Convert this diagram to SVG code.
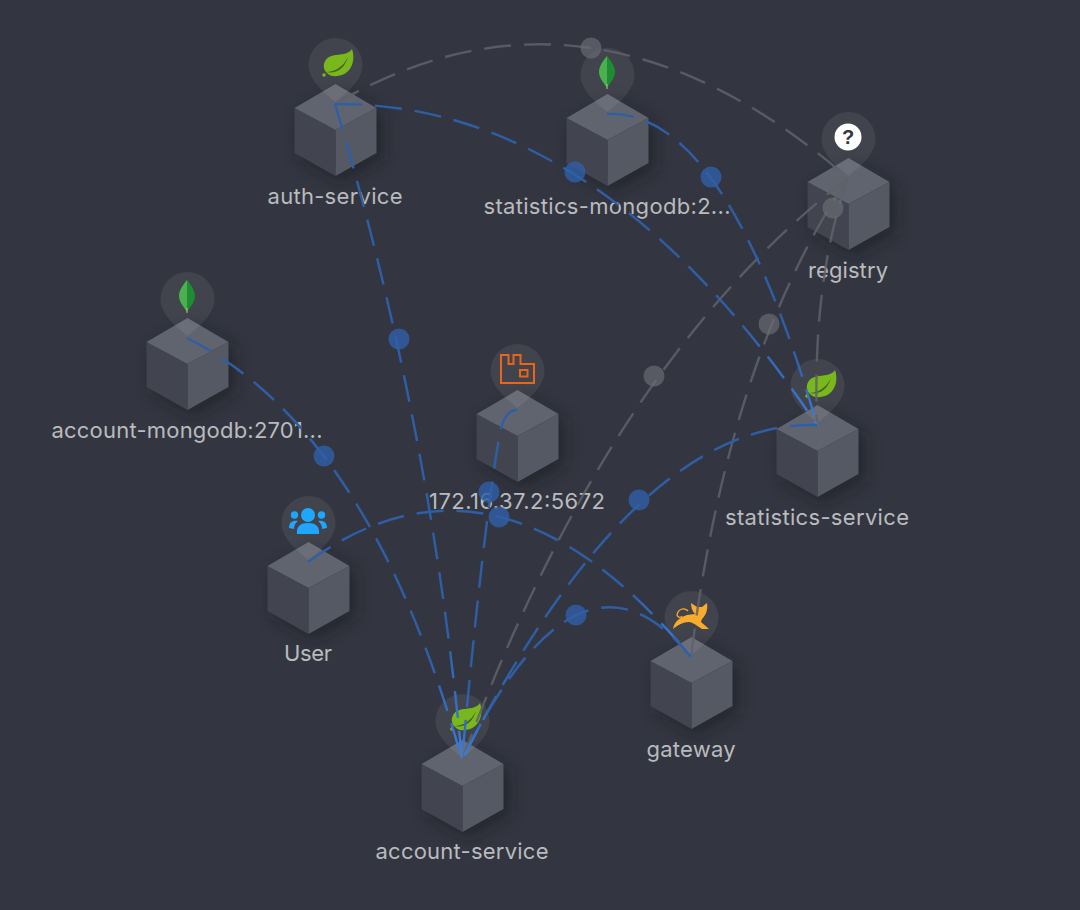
<svg xmlns="http://www.w3.org/2000/svg" width="1080" height="910" viewBox="0 0 1080 910">
<style>
text{font-family:"Inter","Noto Sans","Liberation Sans",sans-serif;font-size:22px;fill:#b9bbbe;text-anchor:middle}
.e{fill:none;stroke-width:2.4;stroke-dasharray:27 13}
.g{stroke:#5f626a;stroke-opacity:.85}
.db{fill:#2f5fa8;fill-opacity:.8}
.dg{fill:#6b6e75;fill-opacity:.65}
</style>
<defs>
<filter id="blur" x="-40%" y="-40%" width="180%" height="180%"><feGaussianBlur stdDeviation="8"/></filter>
<linearGradient id="fade"><stop offset="0" stop-color="#2e5ea6"/><stop offset=".8" stop-color="#2e5ea6"/><stop offset="1" stop-color="#3b7cdc"/></linearGradient>
<linearGradient id="e1" href="#fade" gradientUnits="userSpaceOnUse" x1="335" y1="104" x2="817" y2="425"/>
<linearGradient id="e2" href="#fade" gradientUnits="userSpaceOnUse" x1="607" y1="114" x2="817" y2="425"/>
<linearGradient id="e3" href="#fade" gradientUnits="userSpaceOnUse" x1="335" y1="104" x2="462" y2="760"/>
<linearGradient id="e4" href="#fade" gradientUnits="userSpaceOnUse" x1="187" y1="338" x2="462" y2="760"/>
<linearGradient id="e5" href="#fade" gradientUnits="userSpaceOnUse" x1="517" y1="410" x2="462" y2="760"/>
<linearGradient id="e6" href="#fade" gradientUnits="userSpaceOnUse" x1="308" y1="562" x2="691" y2="657"/>
<linearGradient id="e7" href="#fade" gradientUnits="userSpaceOnUse" x1="817" y1="425" x2="462" y2="760"/>
<linearGradient id="e8" href="#fade" gradientUnits="userSpaceOnUse" x1="691" y1="657" x2="462" y2="760"/>
<g id="cube">
<polygon points="6,6 47,30 47,75 6,98 -35,75 -35,30" fill="#16181d" opacity=".5" filter="url(#blur)"/>
<polygon points="-41,24 0,46 0,92 -41,69" fill="#42454f"/>
<polygon points="41,24 0,46 0,92 41,69" fill="#555963"/>
<polygon points="0,0 41,24 0,46 -41,24" fill="#60646f"/>
<path d="M0,18 C-6,12 -27,-1 -27,-19 A27,27 0 1 1 27,-19 C27,-1 6,12 0,18Z" fill="#fff" fill-opacity=".07"/>
</g>
<g id="spring">
<path d="M17,-16 C21,-4 16,8 5,10.5 C-1,12 -6,11 -9,7 C-14,1 -10,-8 -2,-9.5 C6,-11 13,-10 17,-16Z" fill="#78b81c"/>
<path d="M-9,7 C-2,7 8,3 13,-8 C9,5 0,9 -9,7Z" fill="#4a5f28"/>
<circle cx="-11" cy="10" r="1.8" fill="#78b81c"/>
</g>
<g id="mongo">
<path d="M0,-16 C-6,-9 -8,-4 -8,0 C-8,6 -3,11 0,16Z" fill="#4caf50"/>
<path d="M0,-16 C6,-9 8,-4 8,0 C8,6 3,11 0,16Z" fill="#1e8c30"/>
<path d="M0,12 V17" stroke="#c9b98a" stroke-width="1"/>
</g>
</defs>
<rect width="1080" height="910" fill="#333640"/>
<g id="node-auth-service"><use href="#cube" x="335.500" y="84"/><use href="#spring" x="335" y="65"/><text x="335" y="204" textLength="135">auth-service</text></g>
<g id="node-statistics-mongodb"><use href="#cube" x="607.500" y="94"/><use href="#mongo" x="607" y="72"/><text x="607" y="214" textLength="247">statistics-mongodb:2...</text></g>
<g id="node-registry"><use href="#cube" x="848.500" y="158"/><circle cx="848" cy="137" r="13.500" fill="#fff"/><text x="848" y="144" style="font-size:20px;font-weight:800;fill:#333640;font-family:'Liberation Sans',sans-serif">?</text><text x="848" y="278" textLength="80">registry</text></g>
<g id="node-account-mongodb"><use href="#cube" x="187.500" y="318"/><use href="#mongo" x="187" y="296"/><text x="187" y="438" textLength="271">account-mongodb:2701...</text></g>
<g id="node-rabbitmq"><use href="#cube" x="517.500" y="390"/><path d="M501,355 H508.500 V364 H513.500 V355 H520.500 V364 H534 V383 H501Z M520,370 H527.500 V376.500 H520Z" fill="none" stroke="#e8651a" stroke-width="2"/><text x="517" y="509" textLength="176">172.16.37.2:5672</text></g>
<g id="node-statistics-service"><use href="#cube" x="817.500" y="405"/><use href="#spring" x="818" y="386"/><text x="817" y="525" textLength="184">statistics-service</text></g>
<g id="node-user"><use href="#cube" x="308.500" y="542"/>
<g fill="#1ea7fd"><circle cx="308" cy="515" r="7"/><circle cx="294.500" cy="515" r="3.700"/><circle cx="321.500" cy="515" r="3.700"/><path d="M297,534 C296,526 301,523 308,523 C315,523 320,526 319,534Z"/><path d="M289,528 C289,522 293,520 298,521 C295,523 294,526 294,529Z"/><path d="M327,528 C327,522 323,520 318,521 C321,523 322,526 322,529Z"/></g>
<text x="308" y="661" textLength="48">User</text></g>
<g id="node-gateway"><use href="#cube" x="691.500" y="637"/>
<path d="M691,603 L697,607 L702,607 L707,603 C708,610 706,615 702,619 L701,622 L709,629 L702,629 C696,625 692,622 689,622 C683,622 678,625 673,629 C674,622 680,617 687,615 L695,614 C692,611 691,607 691,603Z" fill="#f9ab2d"/>
<path d="M688,611 C684,607 678,609 677,615 C678,618 681,618 682,616" fill="none" stroke="#f9ab2d" stroke-width="1.300"/>
<text x="691" y="757" textLength="89">gateway</text></g>
<g id="node-account-service"><use href="#cube" x="462.500" y="740"/><use href="#spring" x="463" y="719"/><text x="462" y="859" textLength="173">account-service</text></g>
<g id="connectors">
<path class="e g" d="M335,104 Q590,-45 848,178"/>
<path class="e g" d="M848,178 Q610,360 462,760"/>
<path class="e g" d="M848,178 Q728,358 691,657"/>
<path class="e g" d="M848,178 Q812,280 817,425"/>
<path class="e" stroke="url(#e1)" d="M335,104 Q600,102 817,425"/>
<path class="e" stroke="url(#e2)" d="M607,114 Q725,108 817,425"/>
<path class="e" stroke="url(#e3)" d="M335,104 Q431,426 462,760"/>
<path class="e" stroke="url(#e4)" d="M187,338 Q370,430 462,760"/>
<path class="e" stroke="url(#e5)" d="M517,410 Q505,410 500,432 Q483,530 462,760"/>
<path class="e" stroke="url(#e6)" d="M308,562 Q498,424 691,657"/>
<path class="e" stroke="url(#e7)" d="M817,425 Q635,420 462,760"/>
<path class="e" stroke="url(#e8)" d="M691,657 Q580,520 462,760"/>
<circle class="dg" cx="591" cy="48" r="10.500"/>
<circle class="dg" cx="654" cy="376" r="10.500"/>
<circle class="dg" cx="769" cy="324" r="10.500"/>
<circle class="dg" cx="833" cy="208" r="10.500"/>
<circle class="db" cx="575" cy="172" r="10.500"/>
<circle class="db" cx="711" cy="177" r="10.500"/>
<circle class="db" cx="399" cy="339" r="10.500"/>
<circle class="db" cx="324" cy="456" r="10.500"/>
<circle class="db" cx="489" cy="492" r="10.500"/>
<circle class="db" cx="499" cy="517" r="10.500"/>
<circle class="db" cx="639" cy="500" r="10.500"/>
<circle class="db" cx="576" cy="615" r="10.500"/>
</g>
</svg>
